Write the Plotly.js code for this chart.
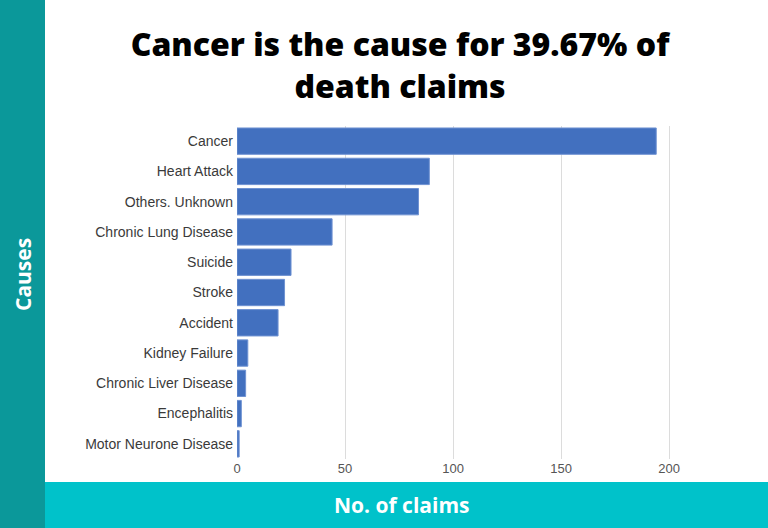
<!DOCTYPE html>
<html>
<head>
<meta charset="utf-8">
<script src="https://cdn.plot.ly/plotly-3.0.1.min.js"></script>
<style>
html,body{margin:0;padding:0;background:#fff;}
#chart{width:768px;height:528px;}
</style>
</head>
<body>
<div id="chart"></div>
<script>
const causes = ["Cancer","Heart Attack","Others. Unknown","Chronic Lung Disease","Suicide","Stroke","Accident","Kidney Failure","Chronic Liver Disease","Encephalitis","Motor Neurone Disease"];
const claims = [194, 89, 84, 44, 25, 22, 19, 5, 4, 2, 1];
const xTicks = [0, 50, 100, 150, 200];
const titleText = "Cancer is the cause for 39.67% of<br>death claims";
const xTitle = "No. of claims";
const yTitle = "Causes";

const W = 768, H = 528;
const m = {l: 237, r: 88, t: 126, b: 69};
const pw = W - m.l - m.r, ph = H - m.t - m.b;
const px = v => (v - m.l) / pw;          // pixel x -> paper x
const py = v => (H - m.b - v) / ph;      // pixel y -> paper y

const trace = {
  type: "bar",
  orientation: "h",
  x: claims,
  y: causes,
  marker: {color: "#4270bf", line: {color: "#6f92d2", width: 1}},
  hoverinfo: "x+y"
};

const layout = {
  width: W, height: H,
  margin: m,
  paper_bgcolor: "#ffffff",
  plot_bgcolor: "#ffffff",
  showlegend: false,
  bargap: 0.13,
  font: {family: "Liberation Sans, Arial, sans-serif", size: 13, color: "#444"},
  title: {
    text: titleText,
    font: {family: "Open Sans", size: 32, color: "#000", weight: 800},
    x: px(400), xref: "paper", xanchor: "center",
    y: 1 - 56 / H, yanchor: "middle"
  },
  xaxis: {
    range: [0, 205],
    tickvals: xTicks,
    ticktext: xTicks.map(String),
    showgrid: true, gridcolor: "#dcdcdc", gridwidth: 1,
    zeroline: false, showline: false,
    ticks: "", ticklen: 0,
    tickfont: {family: "Liberation Sans, Arial, sans-serif", size: 13, color: "#555"},
    fixedrange: true
  },
  yaxis: {
    autorange: "reversed",
    showgrid: false, zeroline: false, showline: false,
    ticks: "", ticklen: 0,
    ticklabelstandoff: 3,
    tickfont: {family: "Liberation Sans, Arial, sans-serif", size: 14, color: "#3a3a3a"},
    fixedrange: true
  },
  shapes: [
    {type: "rect", xref: "paper", yref: "paper", x0: px(0), x1: px(45), y0: py(0), y1: py(H),
     fillcolor: "#0b989a", line: {width: 0}, layer: "below"},
    {type: "rect", xref: "paper", yref: "paper", x0: px(45), x1: px(W), y0: py(482), y1: py(H),
     fillcolor: "#00c2ca", line: {width: 0}, layer: "below"}
  ],
  annotations: [
    {text: xTitle, xref: "paper", yref: "paper", x: px(401), y: py(505),
     xanchor: "center", yanchor: "middle", showarrow: false,
     font: {family: "Open Sans", size: 21, color: "#fff", weight: 700}},
    {text: yTitle, xref: "paper", yref: "paper", x: px(23), y: py(275),
     xanchor: "center", yanchor: "middle", showarrow: false, textangle: -90,
     font: {family: "Open Sans", size: 21, color: "#fff", weight: 700}}
  ]
};

Plotly.newPlot("chart", [trace], layout, {displayModeBar: false, staticPlot: true});
</script>
</body>
</html>
